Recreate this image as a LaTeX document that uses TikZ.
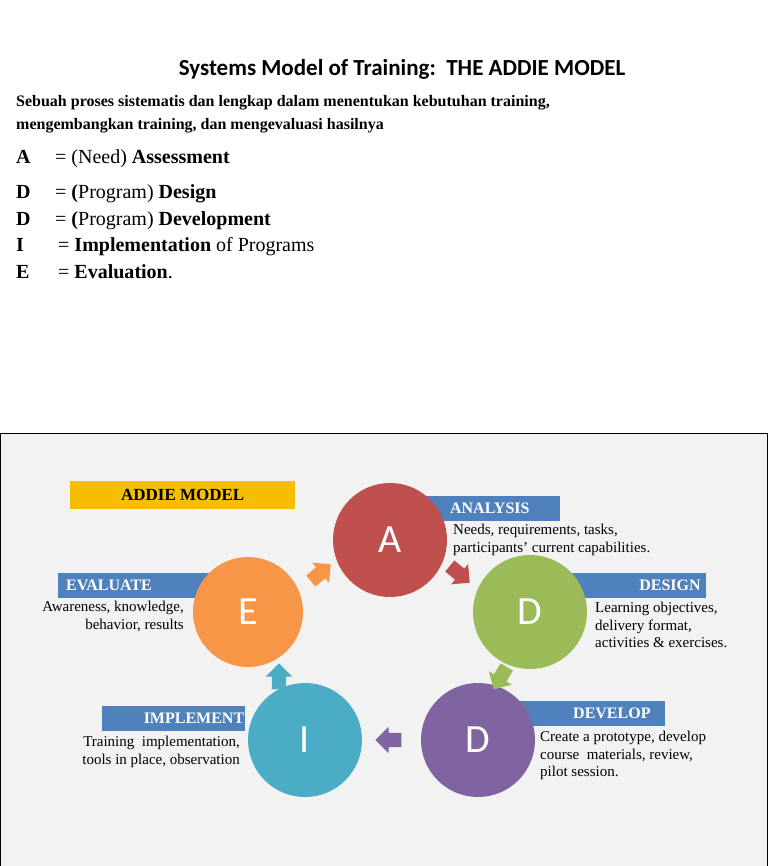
\documentclass[tikz,border=0pt]{standalone}
\usepackage{fontspec}
\setmainfont{Liberation Serif}
\newfontfamily\calfnt{Carlito}
\usetikzlibrary{shapes.arrows}
\definecolor{bgg}{HTML}{F2F2F2}
\definecolor{bx}{HTML}{4F81BD}
\definecolor{cA}{HTML}{C0504D}
\definecolor{cD}{HTML}{9BBB59}
\definecolor{cV}{HTML}{8064A2}
\definecolor{cI}{HTML}{4BACC6}
\definecolor{cE}{HTML}{F79646}
\definecolor{yel}{HTML}{F5BE00}
\tikzset{
 lbl/.style={fill=bx,text=white,font=\bfseries\fontsize{16}{16}\selectfont,inner sep=0pt,minimum height=25pt,anchor=north west},
 circ/.style={circle,minimum size=114pt,inner sep=0pt,text=white,font=\calfnt\fontsize{40}{40}\selectfont},
 desc/.style={font=\fontsize{15}{17.5}\selectfont,inner sep=0pt,align=left},
 arr/.style={single arrow,minimum height=26pt,minimum width=26pt,single arrow head extend=6pt,inner sep=7pt,text width=0pt,text height=0pt,text depth=0pt},
 ln/.style={anchor=base west,inner sep=0pt,font=\fontsize{20}{20}\selectfont}
}
\begin{document}
\begin{tikzpicture}[x=1pt,y=-1pt]
\useasboundingbox (0,0) rectangle (768,866);
\fill[white] (0,0) rectangle (768,866);
\node[anchor=base,inner sep=0pt,font=\calfnt\bfseries\fontsize{23}{23}\selectfont] (title) at (402,76) {Systems Model of Training:\ \ THE ADDIE MODEL};
\node[anchor=base west,inner sep=0pt,font=\bfseries\fontsize{16}{16}\selectfont] (s1) at (16,107) {Sebuah proses sistematis dan lengkap dalam menentukan kebutuhan training,};
\node[anchor=base west,inner sep=0pt,font=\bfseries\fontsize{16}{16}\selectfont] (s2) at (16,130) {mengembangkan training, dan mengevaluasi hasilnya};
\node[ln] (l1) at (16,164) {\textbf{A}};\node[ln] (m1) at (55,164) {= (Need) \textbf{Assessment}};
\node[ln] (l2) at (16,199) {\textbf{D}};\node[ln] (m2) at (55,199) {= \textbf{(}Program) \textbf{Design}};
\node[ln] (l3) at (16,226) {\textbf{D}};\node[ln] (m3) at (55,226) {= \textbf{(}Program) \textbf{Development}};
\node[ln] (l4) at (16,252) {\textbf{I}};\node[ln] (m4) at (58,252) {= \textbf{Implementation} of Programs};
\node[ln] (l5) at (16,279) {\textbf{E}};\node[ln] (m5) at (58,279) {= \textbf{Evaluation}.};
\draw[fill=bgg,draw=black,line width=0.8pt] (0.5,433.5) rectangle (767.5,870);
\node[fill=yel,anchor=north west,minimum width=225pt,minimum height=28pt,inner sep=0pt,font=\bfseries\fontsize{17}{17}\selectfont] (addie) at (70,481) {ADDIE MODEL};
\node[lbl,minimum width=155pt,align=right,text width=147pt] (la) at (405,496) {ANALYSIS\ \ \ \ \ \ };
\node[lbl,minimum width=161pt,align=right,text width=150pt] (ld) at (545,573) {DESIGN};
\node[lbl,minimum width=150pt,align=right,text width=142pt] (lv) at (515,701) {DEVELOP\ \ \ };
\node[lbl,minimum width=143pt,align=right,text width=141pt] (li) at (102,706) {IMPLEMENT};
\node[lbl,minimum width=172pt,align=left,text width=164pt] (le) at (58,573) {\hspace*{4pt}EVALUATE};
\node[circ,fill=cA] (A) at (390,540) {A};
\node[circ,fill=cD] (D1) at (530,612) {D};
\node[circ,fill=cV] (D2) at (478,740) {D};
\node[circ,fill=cI] (I) at (305,740) {I};
\node[circ,fill=cE,minimum size=110pt] (E) at (248,612) {E};
\node[desc,anchor=north west] (ta) at (453,524) {Needs, requirements, tasks,\\participants' current capabilities.};
\node[desc,anchor=north west] (td) at (595,602) {Learning objectives,\\delivery format,\\activities \& exercises.};
\node[desc,anchor=north west] (tv) at (540,731) {Create a prototype, develop\\course\ \ materials, review,\\pilot session.};
\node[desc,anchor=north east,align=right] (ti) at (240,736) {Training\ \ implementation,\\tools in place, observation};
\node[desc,anchor=north east,align=right] (te) at (184,601) {Awareness, knowledge,\\behavior, results};
\node[arr,fill=cE,rotate=40] (aE) at (318,575) {};
\node[arr,fill=cA,rotate=-40] (aA) at (457,572) {};
\node[arr,fill=cD,rotate=-120] (aD) at (502,675) {};
\node[arr,fill=cV,rotate=180] (aV) at (392,740) {};
\node[arr,fill=cI,rotate=90] (aI) at (279,680) {};
\end{tikzpicture}
\end{document}
